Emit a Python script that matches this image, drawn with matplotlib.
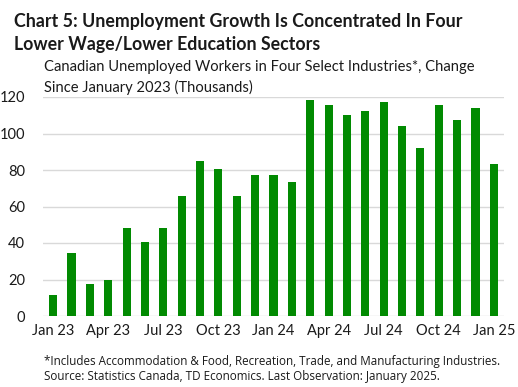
import numpy as np
import matplotlib.pyplot as plt

months = ['Jan 23', 'Feb 23', 'Mar 23', 'Apr 23', 'May 23', 'Jun 23', 'Jul 23',
          'Aug 23', 'Sep 23', 'Oct 23', 'Nov 23', 'Dec 23', 'Jan 24', 'Feb 24',
          'Mar 24', 'Apr 24', 'May 24', 'Jun 24', 'Jul 24', 'Aug 24', 'Sep 24',
          'Oct 24', 'Nov 24', 'Dec 24', 'Jan 25']
values = [11.5, 34.5, 17.5, 19.7, 48.2, 40.5, 48.2, 65.8, 85.0, 80.5, 65.8, 77.3,
          77.3, 73.4, 118.4, 115.6, 110.1, 112.3, 117.3, 104.1, 92.1, 115.6,
          107.4, 114.0, 83.3]
yticks = [0, 20, 40, 60, 80, 100, 120]

plt.rcParams['font.family'] = ['Lato', 'DejaVu Sans']
text_col = '#1a1a1a'

fig = plt.figure(figsize=(5.18, 3.87), dpi=100)
ax = fig.add_axes([43 / 518, 1 - 316 / 387, 461 / 518, 219 / 387])

x = np.arange(len(values))
ax.bar(x, values, width=0.44, color='#018a01', zorder=3)

ax.set_ylim(0, 120)
ax.set_xlim(-0.55, len(values) - 0.45)
ax.set_yticks(yticks)
ax.set_xticks(x[::3])
ax.set_xticklabels(months[::3])
ax.grid(axis='y', color='#d9d9d9', linewidth=1, zorder=0)
for s in ax.spines.values():
    s.set_visible(False)
ax.tick_params(length=0, labelsize=10.5, colors=text_col, pad=6)
ax.tick_params(axis='y', pad=13)

fig.text(14 / 518, 1 - 27 / 387, 'Chart 5: Unemployment Growth Is Concentrated In Four',
         fontsize=12.8, fontweight='bold', color=text_col)
fig.text(14 / 518, 1 - 50 / 387, 'Lower Wage/Lower Education Sectors',
         fontsize=12.8, fontweight='bold', color=text_col)
fig.text(44 / 518, 1 - 71 / 387,
         'Canadian Unemployed Workers in Four Select Industries*, Change',
         fontsize=10.6, color=text_col)
fig.text(44 / 518, 1 - 92 / 387, 'Since January 2023 (Thousands)',
         fontsize=10.6, color=text_col)
fig.text(44 / 518, 1 - 365 / 387,
         '*Includes Accommodation & Food, Recreation, Trade, and Manufacturing Industries.',
         fontsize=8.4, color=text_col, family=['Open Sans', 'DejaVu Sans'])
fig.text(44 / 518, 1 - 380 / 387,
         'Source: Statistics Canada, TD Economics. Last Observation: January 2025.',
         fontsize=8.4, color=text_col, family=['Open Sans', 'DejaVu Sans'])

fig.savefig('out.png', dpi=100)
